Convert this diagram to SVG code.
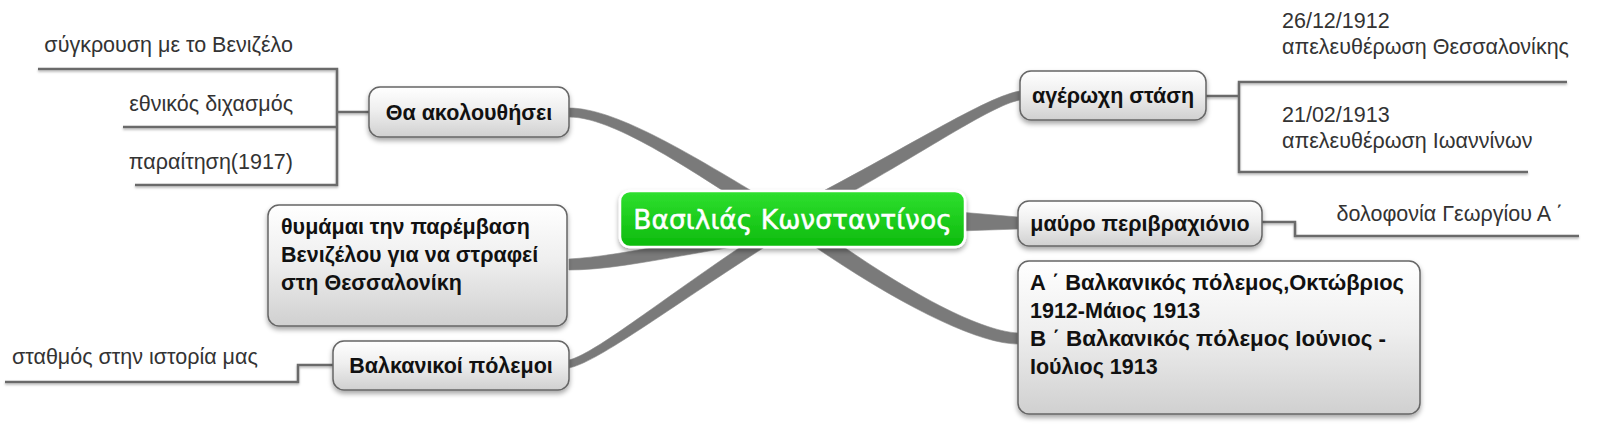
<svg xmlns="http://www.w3.org/2000/svg" width="1600" height="427" viewBox="0 0 1600 427">
<defs>
<linearGradient id="nodeGrad" x1="0" y1="0" x2="0" y2="1">
<stop offset="0" stop-color="#ffffff"/>
<stop offset="0.45" stop-color="#efefef"/>
<stop offset="1" stop-color="#d0d0d0"/>
</linearGradient>
<linearGradient id="rootGrad" x1="0" y1="0" x2="0" y2="1">
<stop offset="0" stop-color="#2fe02f"/>
<stop offset="1" stop-color="#0cba0c"/>
</linearGradient>
<filter id="shadow" x="-10%" y="-20%" width="120%" height="150%">
<feDropShadow dx="0" dy="3" stdDeviation="2.5" flood-color="#000" flood-opacity="0.35"/>
</filter>
<filter id="lineShadow" x="-5%" y="-50%" width="110%" height="300%">
<feDropShadow dx="0" dy="1.5" stdDeviation="1" flood-color="#000" flood-opacity="0.3"/>
</filter>
</defs>
<style>
.node rect{fill:url(#nodeGrad);stroke:#666;stroke-width:1.5;filter:url(#shadow)}
.node text{font-family:"Liberation Sans",Arial,sans-serif;font-weight:bold;font-size:21.5px;fill:#111}
.branch{fill:#7a7a7a;stroke:#8a8a8a;stroke-width:0.6}
.leafline{fill:none;stroke:#6a6a6a;stroke-width:2.5;filter:url(#lineShadow)}
.leaf{font-family:"Liberation Sans",Arial,sans-serif;font-size:21.5px;fill:#333}
.root rect{fill:url(#rootGrad);stroke:#ffffff;stroke-width:2.5;filter:url(#shadow)}
.root text{font-family:"DejaVu Sans","Liberation Sans",sans-serif;font-size:26.5px;fill:#ffffff;stroke:#ffffff;stroke-width:0.5}
</style>

<g id="connectors">
<path class="branch" d="M569,108 C624,108 718,172 822,233 L810,247 C712,185 620,117 569,117 Z"/>
<path class="branch" d="M569,259 C624,256 696,237 787,224 L789,239 C698,250 624,270 569,270 Z"/>
<path class="branch" d="M569,360 C600,352 678,285 806,204 L814,216 C684,296 602,361 569,368 Z"/>
<path class="branch" d="M1020,91 C984,97 898,154 781,213 L789,226 C902,168 987,106 1020,100 Z"/>
<path class="branch" d="M959,212 L1018,217 L1018,229 L959,231 Z"/>
<path class="branch" d="M1018,333 C979,331 902,291 802,217 L792,231 C894,303 977,344 1018,344 Z"/>
<path class="leafline" d="M38,69 H337 V185 H135 M123,127 H337 M337,112 H369"/>
<path class="leafline" d="M333,365 H298 V382 H5"/>
<path class="leafline" d="M1567,82 H1239 V172 H1528 M1206,96 H1239"/>
<path class="leafline" d="M1262,222 H1295 V236 H1579"/>
</g>

<g id="root" class="root">
<rect x="620" y="191" width="345" height="56" rx="10"/>
<text x="792.5" y="229" text-anchor="middle">Βασιλιάς Κωνσταντίνος</text>
</g>

<g id="n-tha" class="node">
<rect x="369" y="87" width="200" height="50" rx="11"/>
<text x="469" y="119.5" text-anchor="middle">Θα ακολουθήσει</text>
</g>
<g id="n-thymamai" class="node">
<rect x="268" y="205" width="299" height="121" rx="11"/>
<text x="281" y="234">θυμάμαι την παρέμβαση</text>
<text x="281" y="262">Βενιζέλου για να στραφεί</text>
<text x="281" y="290">στη Θεσσαλονίκη</text>
</g>
<g id="n-balkan" class="node">
<rect x="333" y="341" width="236" height="49" rx="11"/>
<text x="451" y="373" text-anchor="middle">Βαλκανικοί πόλεμοι</text>
</g>
<g id="n-agerochi" class="node">
<rect x="1020" y="71" width="186" height="49" rx="11"/>
<text x="1113" y="103" text-anchor="middle">αγέρωχη στάση</text>
</g>
<g id="n-mauro" class="node">
<rect x="1018" y="201" width="244" height="45" rx="11"/>
<text x="1140" y="231" text-anchor="middle">μαύρο περιβραχιόνιο</text>
</g>
<g id="n-polemoi" class="node">
<rect x="1018" y="261" width="402" height="153" rx="11"/>
<text x="1030" y="290" textLength="374" lengthAdjust="spacingAndGlyphs">Α ΄ Βαλκανικός πόλεμος,Οκτώβριος</text>
<text x="1030" y="318">1912-Μάιος 1913</text>
<text x="1030" y="346" textLength="356" lengthAdjust="spacingAndGlyphs">Β ΄ Βαλκανικός πόλεμος Ιούνιος -</text>
<text x="1030" y="374">Ιούλιος 1913</text>
</g>

<g id="leaves">
<text class="leaf" x="293" y="52" text-anchor="end">σύγκρουση με το Βενιζέλο</text>
<text class="leaf" x="293" y="111" text-anchor="end">εθνικός διχασμός</text>
<text class="leaf" x="293" y="169" text-anchor="end">παραίτηση(1917)</text>
<text class="leaf" x="12" y="364">σταθμός στην ιστορία μας</text>
<text class="leaf" x="1282" y="28">26/12/1912</text>
<text class="leaf" x="1282" y="54">απελευθέρωση Θεσσαλονίκης</text>
<text class="leaf" x="1282" y="122">21/02/1913</text>
<text class="leaf" x="1282" y="148">απελευθέρωση Ιωαννίνων</text>
<text class="leaf" x="1563" y="221" text-anchor="end">δολοφονία Γεωργίου Α ΄</text>
</g>
</svg>
